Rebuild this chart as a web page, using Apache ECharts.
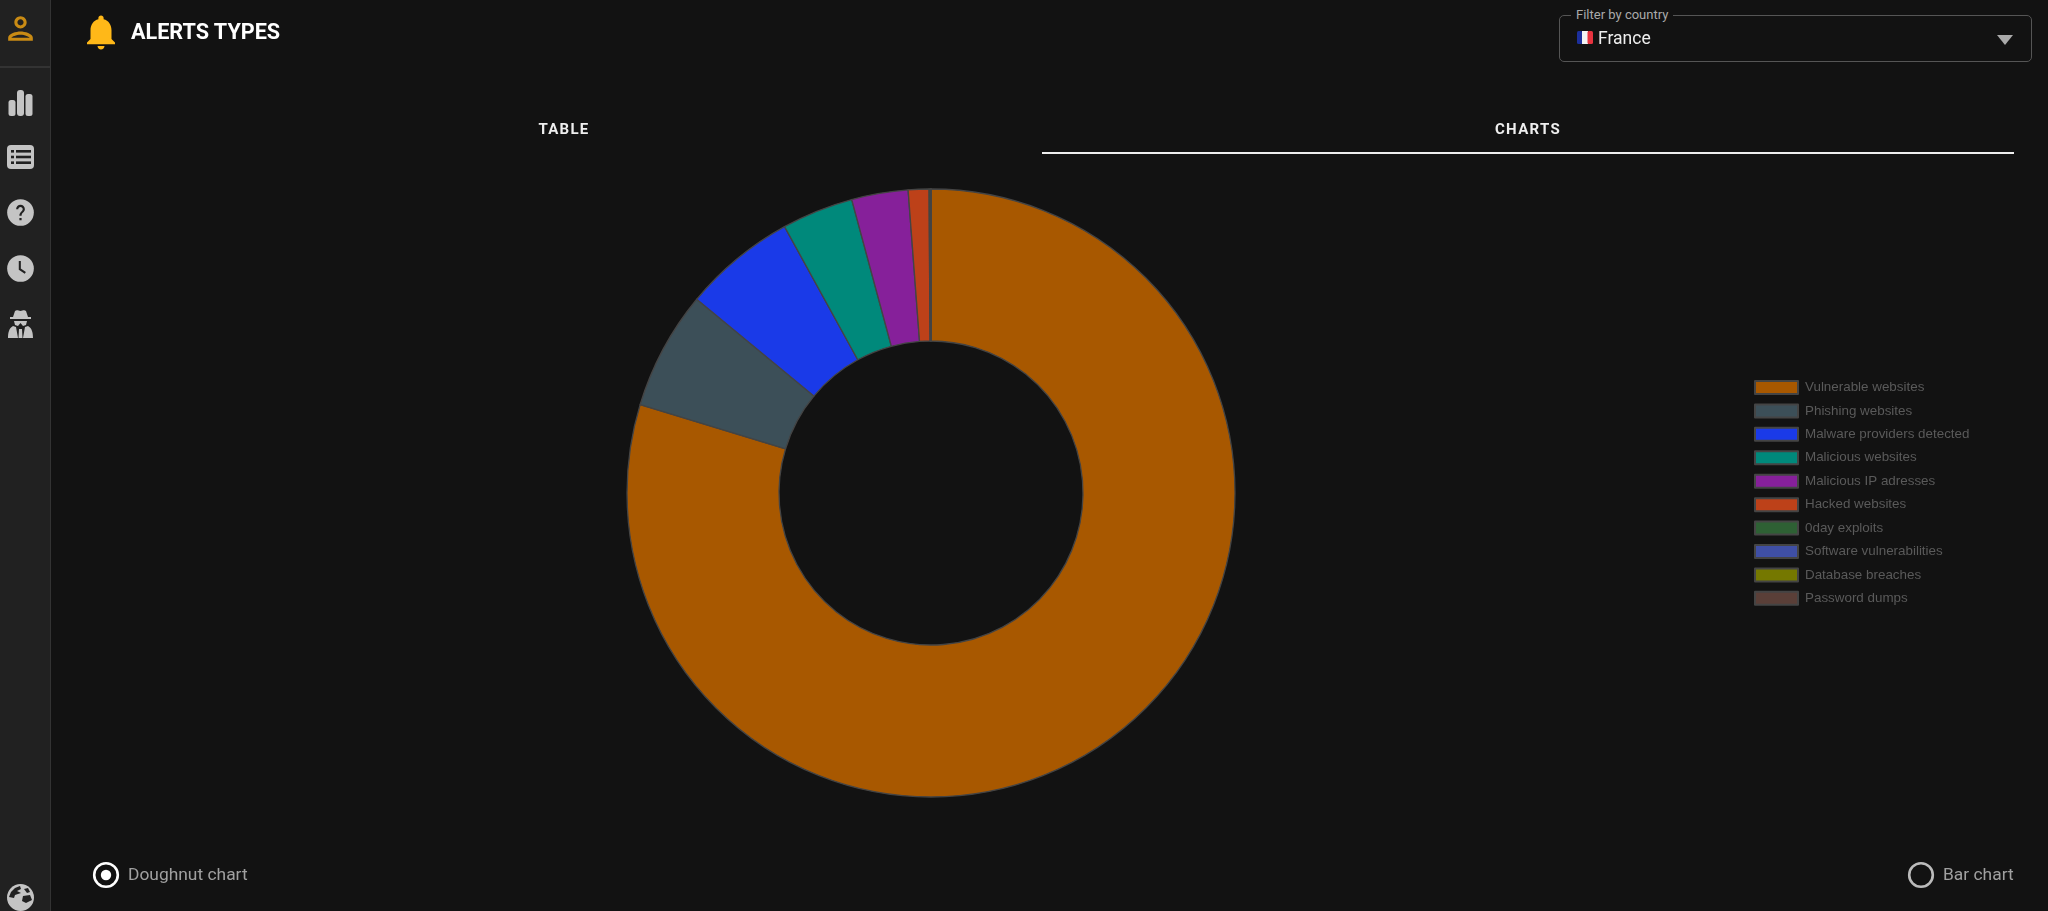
<!DOCTYPE html>
<html>
<head>
<meta charset="utf-8">
<title>Alerts types</title>
<script src="https://cdn.jsdelivr.net/npm/echarts@6/dist/echarts.min.js"></script>
<style>
html, body { margin: 0; padding: 0; width: 2048px; height: 911px; overflow: hidden; background: #121212; font-family: Roboto, sans-serif; }
#main { position: absolute; left: 0; top: 0; width: 2048px; height: 911px; }
.abs { position: absolute; white-space: nowrap; }
#side { position: absolute; left: 0; top: 0; width: 50px; height: 911px; background: #212121; border-right: 1px solid #333; }
#side hr { position: absolute; left: 0; top: 66px; width: 50px; margin: 0; border: 0; border-top: 2px solid #333; }
.ico { position: absolute; left: 4px; width: 33px; height: 33px; }
#title { left: 131px; top: 19px; font-size: 21.6px; line-height: 26px; font-weight: 700; color: #fff; }
#filter { left: 1559px; top: 15px; width: 471px; height: 45px; border: 1.5px solid #555; border-radius: 5px; box-sizing: content-box; }
#filterlabel { left: 1571px; top: 7px; padding: 0 5px; font-size: 13px; line-height: 16px; color: #aaa; background: #121212; }
#france { left: 1598px; top: 27px; font-size: 17.5px; line-height: 22px; color: #eee; }
.tab { top: 120px; font-size: 15px; line-height: 18px; font-weight: 700; letter-spacing: 1.3px; color: #eee; transform: translateX(-50%); }
#underline { left: 1042px; top: 152px; width: 972px; height: 2px; background: #eee; }
.radiotext { top: 863px; font-size: 17.4px; line-height: 22px; color: #a0a0a0; }
</style>
</head>
<body>
<div id="main"></div>

<div id="side">
	<hr>
	<svg class="ico" style="top:10px;left:2px;width:37px;height:37px" viewBox="0 0 24 24"><path fill="#c98b14" d="M12 6c1.100 0 2 .9 2 2s-.9 2-2 2-2-.9-2-2 .9-2 2-2m0 10c2.700 0 5.800 1.290 6 2H6c.23-.72 3.310-2 6-2m0-12C9.790 4 8 5.790 8 8s1.790 4 4 4 4-1.790 4-4-1.790-4-4-4zm0 10c-2.670 0-8 1.340-8 4v2h16v-2c0-2.660-5.330-4-8-4z"/></svg>
	<svg class="ico" style="top:85px" viewBox="0 0 33 33"><g fill="#c4c4c4"><rect x="4.500" y="15" width="7" height="16" rx="2.500"/><rect x="13" y="5" width="7" height="26" rx="3"/><rect x="21.500" y="9" width="7" height="22" rx="2.500"/></g></svg>
	<svg class="ico" style="top:141px" viewBox="0 0 33 33"><rect x="3" y="4" width="27" height="24" rx="4" fill="#c4c4c4"/><g fill="#212121"><rect x="7" y="9" width="3" height="2.600"/><rect x="12" y="9" width="15" height="2.600"/><rect x="7" y="14.700" width="3" height="2.600"/><rect x="12" y="14.700" width="15" height="2.600"/><rect x="7" y="20.400" width="3" height="2.600"/><rect x="12" y="20.400" width="15" height="2.600"/></g></svg>
	<svg class="ico" style="top:196px" viewBox="0 0 24 24"><circle cx="12" cy="12" r="9.700" fill="#c4c4c4"/><path fill="#212121" d="M11 17h2v2h-2zM15.070 11.250l-.9.920C13.450 12.900 13 13.500 13 15h-2v-.5c0-1.100.45-2.100 1.170-2.830l1.240-1.260c.37-.36.59-.86.59-1.410 0-1.100-.9-2-2-2s-2 .9-2 2H8c0-2.210 1.790-4 4-4s4 1.790 4 4c0 .88-.36 1.680-.93 2.250z" transform="translate(2.400 2.400) scale(.8)"/></svg>
	<svg class="ico" style="top:252px" viewBox="0 0 24 24"><circle cx="12" cy="12" r="9.700" fill="#c4c4c4"/><path d="M11.500 6.500v6l4 2.700" fill="none" stroke="#212121" stroke-width="1.500"/></svg>
	<svg class="ico" style="top:307px" viewBox="0 0 33 33"><path fill="#c4c4c4" d="M11 4c2-1.500 3.500 0 5.500 0S20 2.500 22 4l2 6h3v2H6v-2h3zM10 14h13l-1 4-3 1-2.500-3-2.500 3-3-1zM9 19l3 1 2 11H4c0-5 1-10 5-12zM24 19l-3 1-2 11h10c0-5-1-10-5-12zM15 22h3l.5 9h-4z"/></svg>
	<svg class="ico" style="top:881px" viewBox="0 0 33 33"><circle cx="16.500" cy="16.500" r="13.500" fill="#c4c4c4"/><path fill="#212121" d="M11 7l5-2 1 3-4 2 4 2-6 2-1 3-5-1 2-5zM19 15l7-1 2 5-6 3-4-2zM20 8l4-1 2 4-3 1z"/></svg>
</div>

<svg class="abs" style="left:80px;top:11px;width:42px;height:42px" viewBox="0 0 24 24"><path fill="#ffb818" d="M12 22c1.100 0 2-.9 2-2h-4c0 1.100.9 2 2 2zm6-6v-5c0-3.070-1.630-5.640-4.500-6.320V4c0-.83-.67-1.500-1.500-1.500s-1.500.67-1.500 1.500v.68C7.640 5.360 6 7.920 6 11v5l-2 2v1h16v-1l-2-2z"/></svg>
<div class="abs" id="title">ALERTS TYPES</div>

<div class="abs" id="filter"></div>
<div class="abs" id="filterlabel">Filter by country</div>
<svg class="abs" style="left:1577px;top:31px;width:16px;height:13px" viewBox="0 0 16 13"><rect width="5.500" height="13" rx="1.500" fill="#1c2f9c"/><rect x="5" width="6" height="13" fill="#f4f4f4"/><rect x="10.500" width="5.500" height="13" rx="1.500" fill="#e8333f"/></svg>
<div class="abs" id="france">France</div>
<svg class="abs" style="left:1996px;top:34px;width:18px;height:12px" viewBox="0 0 18 12"><path d="M1 1h16l-8 10z" fill="#aaa"/></svg>

<div class="abs tab" style="left:564px">TABLE</div>
<div class="abs tab" style="left:1528px">CHARTS</div>
<div class="abs" id="underline"></div>

<svg class="abs" style="left:92px;top:861px;width:28px;height:28px" viewBox="0 0 28 28"><circle cx="14" cy="14" r="11.800" fill="none" stroke="#fff" stroke-width="2.600"/><circle cx="14" cy="14" r="5.200" fill="#fff"/></svg>
<div class="abs radiotext" style="left:128px">Doughnut chart</div>
<svg class="abs" style="left:1907px;top:861px;width:28px;height:28px" viewBox="0 0 28 28"><circle cx="14" cy="14" r="11.800" fill="none" stroke="#bbb" stroke-width="2.600"/></svg>
<div class="abs radiotext" style="left:1943px">Bar chart</div>

<script>
let categories = ['Vulnerable websites', 'Phishing websites', 'Malware providers detected', 'Malicious websites', 'Malicious IP adresses', 'Hacked websites', '0day exploits', 'Software vulnerabilities', 'Database breaches', 'Password dumps'];
let alertValues = [797, 63, 60, 38, 30, 11, 1, 0, 0, 0];
let sliceColors = ['#a85800', '#3c4f58', '#1a3ae8', '#00897b', '#86209a', '#bd4119', '#2e6034', '#3f4fa5', '#757800', '#5a3f38'];

let chart = echarts.init(document.getElementById('main'));

let pieData = categories.map(function (name, i) {
	return { name: name, value: alertValues[i], itemStyle: { color: sliceColors[i] } };
});

chart.setOption({
	animation: false,
	tooltip: { trigger: 'item' },
	legend: {
		orient: 'vertical',
		left: 1749,
		top: 375,
		icon: 'rect',
		itemWidth: 43,
		itemHeight: 13,
		itemGap: 8.43,
		selectedMode: false,
		data: categories,
		textStyle: { color: '#5a5a5a', fontSize: 13.4, fontFamily: 'Liberation Sans', padding: [0, 0, 0, 2] }
	},
	series: [{
		type: 'pie',
		center: [931, 493],
		radius: [152, 304],
		startAngle: 90,
		clockwise: true,
		label: { show: false },
		labelLine: { show: false },
		emphasis: { scale: false },
		itemStyle: { borderColor: '#444', borderWidth: 1.3 },
		data: pieData
	}]
});
</script>
</body>
</html>
